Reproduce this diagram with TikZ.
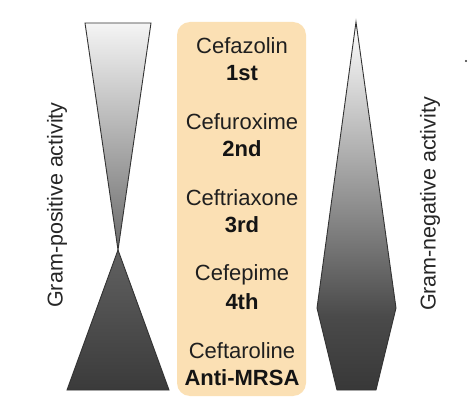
\documentclass[tikz,border=0pt]{standalone}
\usepackage{fontspec}
\setmainfont{Liberation Sans}
\pgfdeclareverticalshading{rightsh}{100bp}{color(0bp)=(black!78); color(25bp)=(black!78); color(35bp)=(black!71); color(75bp)=(white); color(100bp)=(white)}
\begin{document}
\begin{tikzpicture}[x=1pt,y=-1pt,
  drug/.style={font=\fontsize{22}{24}\selectfont, text=black!88, inner sep=0pt, anchor=center},
  gen/.style={font=\fontsize{22}{24}\selectfont\bfseries, text=black!92, inner sep=0pt, anchor=center},
  side/.style={font=\fontsize{21.5}{24}\selectfont, text=black!85, rotate=90, inner sep=0pt, anchor=center},
  outline/.style={draw=black!80, line width=0.9pt, line join=miter}]
\useasboundingbox (0,0) rectangle (474,414);
\fill[white] (0,0) rectangle (474,414);
% beige box
\fill[rounded corners=13pt, fill={rgb,255:red,251;green,224;blue,180}] (177,22) rectangle (306,396);
% left hourglass
\shade[outline, top color=black!4, bottom color=black!58] (85,23) -- (151,23) -- (118,250) -- cycle;
\shade[outline, top color=black!62, bottom color=black!77] (118,250) -- (169,390) -- (67,390) -- cycle;
% right shape
\shade[outline, shading=rightsh] (356,22) -- (396,308) -- (376,390) -- (337,390) -- (317,308) -- cycle;
% dot
\fill[black!80] (466,61) circle (1.1pt);
% side labels
\node[side] (gp) at (57,205) {Gram-positive activity};
\node[side] (gn) at (430,204) {Gram-negative activity};
% box texts
\node[drug] (d1) at (242,46) {Cefazolin};
\node[gen]  (g1) at (242,73) {1st};
\node[drug] (d2) at (242,122) {Cefuroxime};
\node[gen]  (g2) at (242,149) {2nd};
\node[drug] (d3) at (242,198) {Ceftriaxone};
\node[gen]  (g3) at (242,225) {3rd};
\node[drug] (d4) at (242,275) {Cefepime};
\node[gen]  (g4) at (242,302) {4th};
\node[drug] (d5) at (242,351) {Ceftaroline};
\node[gen]  (g5) at (242,378) {Anti-MRSA};
\end{tikzpicture}
\end{document}
